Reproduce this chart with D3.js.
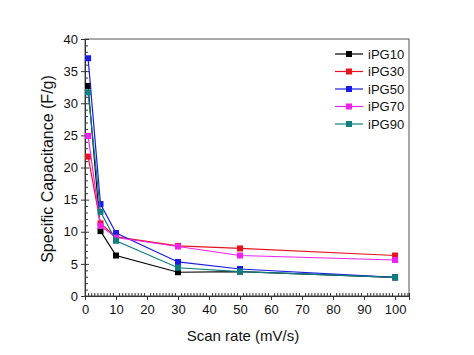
<!DOCTYPE html>
<html><head><meta charset="utf-8">
<script src="https://cdn.jsdelivr.net/npm/d3@7"></script>
<style>body{margin:0;background:#fff}svg{display:block}text{font-family:"Liberation Sans",Arial,sans-serif}</style>
</head><body>
<svg id="c" width="474" height="355"></svg>
<script>
const scanRates = [1, 5, 10, 30, 50, 100];
const seriesNames = ["iPG10", "iPG30", "iPG50", "iPG70", "iPG90"];
const iPG10 = [32.7, 10.1, 6.3, 3.7, 3.8, 2.9];
const iPG30 = [21.7, 11.3, 9.2, 7.8, 7.4, 6.3];
const iPG50 = [37.0, 14.3, 9.8, 5.3, 4.2, 2.9];
const iPG70 = [24.9, 10.9, 9.1, 7.7, 6.3, 5.6];
const iPG90 = [31.7, 13.1, 8.6, 4.4, 3.8, 2.9];
const colors = ["#000000", "#e8121e", "#1a1ae6", "#f020f0", "#0f7f7f"];
const xTicks = [0,10,20,30,40,50,60,70,80,90,100];
const yTicks = [0,5,10,15,20,25,30,35,40];

const series = [iPG10, iPG30, iPG50, iPG70, iPG90];
const svg = d3.select("#c");
const L = 85, R = 409, T = 39, B = 296;
const x = d3.scaleLinear().domain([0, 104.5]).range([L, R]);
const y = d3.scaleLinear().domain([0, 40]).range([B, T]);

// frame
svg.append("rect").attr("x", L).attr("y", T).attr("width", R - L).attr("height", B - T)
  .attr("fill", "none").attr("stroke", "#555").attr("stroke-width", 1);

// x axis
const gx = svg.append("g").attr("transform", `translate(0,${B})`);
gx.call(d3.axisBottom(x).tickValues(xTicks).tickSize(4).tickPadding(5).tickFormat(d3.format("d")));
gx.append("g").call(d3.axisTop(x).tickValues(d3.range(0, 105, 1).filter(v => v % 10)).tickSize(3).tickFormat(""));
gx.selectAll(".domain").attr("stroke", "#333");
gx.selectAll("line").attr("stroke", "#333");
gx.selectAll("text").attr("font-size", 13).attr("fill", "#111");

// y axis
const gy = svg.append("g").attr("transform", `translate(${L},0)`);
gy.call(d3.axisLeft(y).tickValues(yTicks).tickSize(4).tickPadding(3));
gy.append("g").call(d3.axisRight(y).tickValues(d3.range(0, 41, 1).filter(v => v % 5)).tickSize(3).tickFormat(""));
gy.append("g").call(d3.axisRight(y).tickValues(yTicks).tickSize(4).tickFormat(""));
gy.selectAll(".domain").attr("stroke", "#333");
gy.selectAll("line").attr("stroke", "#333");
gy.selectAll("text").attr("font-size", 13).attr("fill", "#111");

// titles
svg.append("text").attr("x", 243).attr("y", 341).attr("text-anchor", "middle")
  .attr("font-size", 15).attr("fill", "#111").text("Scan rate (mV/s)");
svg.append("text").attr("transform", `translate(53,169) rotate(-90)`)
  .attr("text-anchor", "middle").attr("font-size", 16).attr("fill", "#111")
  .text("Specific Capacitance (F/g)");

// series
const line = d3.line().x((d, i) => x(scanRates[i])).y(d => y(d));
series.forEach((vals, k) => {
  const g = svg.append("g");
  g.append("path").datum(vals).attr("d", line).attr("fill", "none")
    .attr("stroke", colors[k]).attr("stroke-width", 1.2);
  g.selectAll("rect").data(vals).join("rect")
    .attr("x", (d, i) => x(scanRates[i]) - 3).attr("y", d => y(d) - 3)
    .attr("width", 6).attr("height", 6).attr("fill", colors[k]);
});

// legend
const lg = svg.append("g");
seriesNames.forEach((n, k) => {
  const yy = 54 + k * 17.5;
  lg.append("line").attr("x1", 335).attr("x2", 363).attr("y1", yy).attr("y2", yy)
    .attr("stroke", colors[k]).attr("stroke-width", 1.2);
  lg.append("rect").attr("x", 349 - 3).attr("y", yy - 3).attr("width", 6).attr("height", 6)
    .attr("fill", colors[k]);
  lg.append("text").attr("x", 368).attr("y", yy + 4.5).attr("font-size", 13)
    .attr("fill", "#111").text(n);
});
</script>
</body></html>
